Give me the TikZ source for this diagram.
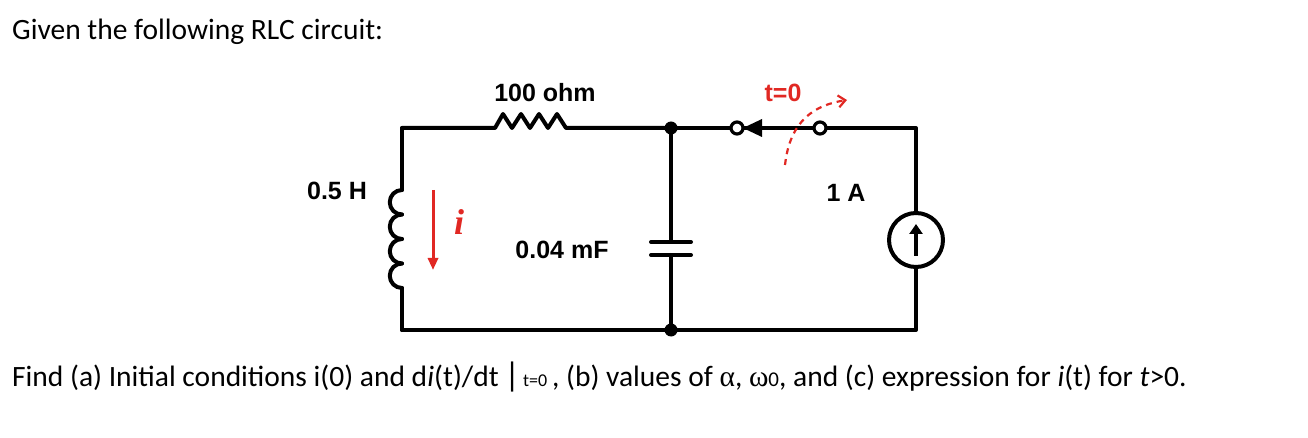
\documentclass[tikz,border=0pt]{standalone}
\usepackage{fontspec}
\setmainfont{Carlito}
\newfontfamily\lab{Liberation Sans}
\newfontfamily\ser{Liberation Serif}
\usetikzlibrary{arrows.meta}
\definecolor{rd}{RGB}{225,40,35}
\begin{document}
\begin{tikzpicture}[x=1pt,y=-1pt,
  wire/.style={line width=4pt,line cap=round,line join=round},
  lbl/.style={font=\lab\bfseries\fontsize{25}{28}\selectfont,inner sep=0pt},
  txt/.style={font=\fontsize{29.5}{34}\selectfont,inner sep=0pt,anchor=base west},
  dot/.style={circle,fill,inner sep=0pt,minimum size=13pt},
  sw/.style={circle,draw,line width=3.2pt,fill=white,inner sep=0pt,minimum size=12pt}]
\useasboundingbox (0,0) rectangle (1308,438);
\node[txt] (title) at (12,40) {Given the following RLC circuit:};
\coordinate (tl) at (402,128);
\coordinate (bl) at (402,330);
\node[dot] (tm) at (671,128) {};
\node[dot] (bm) at (671,330) {};
\coordinate (tr) at (916,128);
\coordinate (br) at (916,330);
\node[sw] (s1) at (737,128) {};
\node[sw] (s2) at (820,128) {};
\node[circle,draw,line width=4pt,minimum size=54pt,inner sep=0pt] (src) at (916,240) {};
% top wire with resistor
\draw[wire] (tl) -- (495,128) -- (503,114) -- (512,128) -- (521,114) -- (530,128) -- (539,114) -- (548,128) -- (557,114) -- (566,128) -- (tm);
\draw[wire] (tm) -- (s1);
\draw[wire] (s2) -- (tr) -- (src.north);
\draw[wire] (src.south) -- (br) -- (bm) -- (bl);
% inductor
\draw[wire] (tl) -- (402,190);
\foreach \k in {0,1,2,3}{
  \draw[wire] (402,{190+\k*24.5}) arc[start angle=-90,end angle=-270,radius=12.25];
}
\draw[wire] (402,288) -- (bl);
% capacitor
\draw[wire] (tm) -- (671,242);
\draw[wire] (651,242) -- (691,242);
\draw[wire] (651,255) -- (691,255);
\draw[wire] (671,255) -- (bm);
% switch
\draw[wire] (s2) -- (s1.east);
\fill (743,128) -- (762,119) -- (762,137) -- cycle;
\draw[rd,line width=2.2pt,dash pattern=on 6pt off 5pt,-{Straight Barb[length=7pt,width=12pt]}] (785,165) .. controls (790,120) and (815,105) .. (847,100);
\node[lbl,text=rd] (t0) at (783,93) {t=0};
% source arrow
\draw[line width=4pt,-{Triangle[length=10pt,width=13pt]}] (916,256) -- (916,224);
% current arrow
\draw[rd,line width=3pt,-{Triangle[length=12pt,width=10pt]}] (433,190) -- (433,270);
\node[text=rd,font=\ser\bfseries\itshape\fontsize{36}{38}\selectfont,inner sep=0pt] (ii) at (459,222) {i};
% labels
\node[lbl] (R) at (545,93) {100 ohm};
\node[lbl] (L) at (337,191) {0.5 H};
\node[lbl] (C) at (562,250) {0.04 mF};
\node[lbl] (I) at (846,193) {1 A};
\node[txt] (q) at (12,386) {Find (a) Initial conditions i(0) and d{\itshape i}(t)/dt{\fontsize{34}{34}\selectfont\,|}{\fontsize{18}{18}\selectfont\,t=0}\,, (b) values of {\ser α}, {\ser ω}{\fontsize{21}{21}\selectfont 0}, and (c) expression for {\itshape i}(t) for {\itshape t}>0.};
\end{tikzpicture}
\end{document}
